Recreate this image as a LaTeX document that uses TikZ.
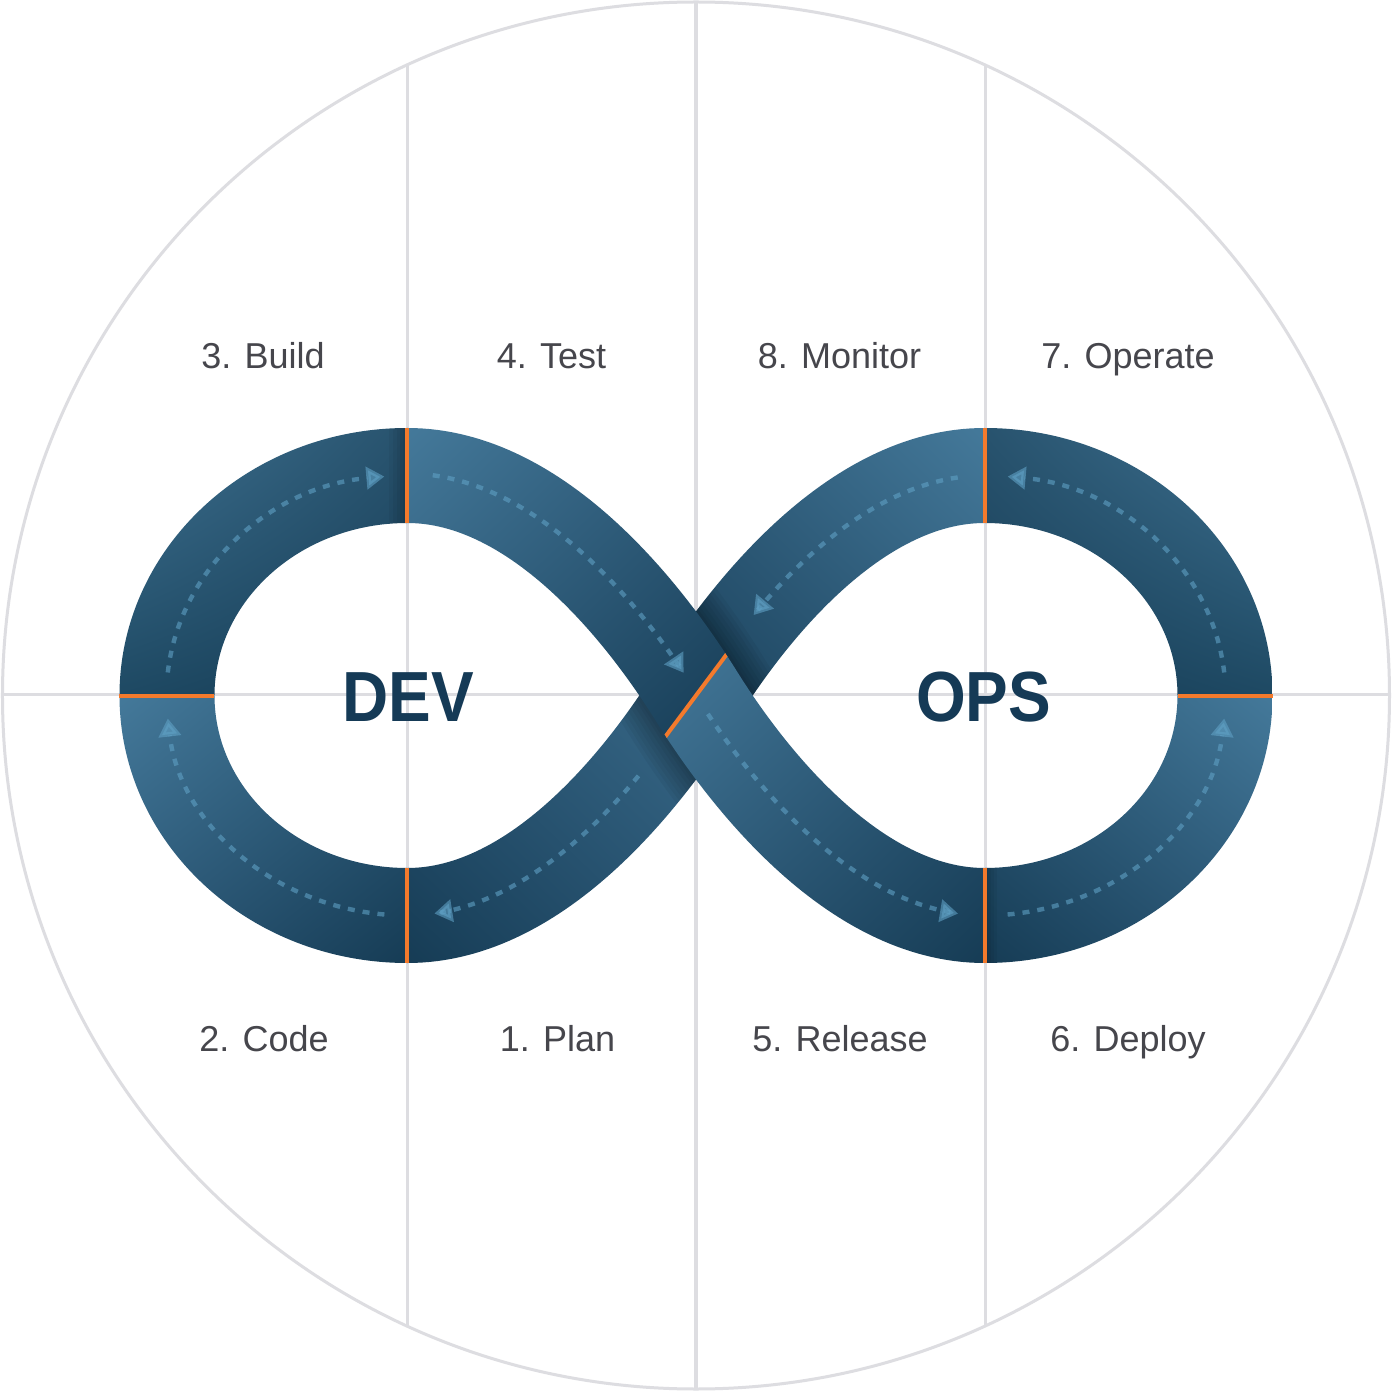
\documentclass[tikz,border=0pt]{standalone}
\usepackage{fontspec}
\setmainfont{Liberation Sans}
\newfontfamily\bigfont{Liberation Sans}[FakeStretch=0.9]
\usetikzlibrary{arrows.meta,shadings}
\definecolor{gridc}{HTML}{DDDDE1}
\definecolor{lblc}{HTML}{46464C}
\definecolor{navy}{HTML}{153A56}
\definecolor{orng}{HTML}{F47A2C}
\definecolor{lt}{HTML}{44799A}
\definecolor{ltb}{HTML}{3F7292}
\definecolor{ltc}{HTML}{3D6F8E}
\definecolor{dk}{HTML}{163C55}
\definecolor{md}{HTML}{2C5876}
\definecolor{mdb}{HTML}{28536E}
\definecolor{mdc}{HTML}{1E4963}
\definecolor{mdd}{HTML}{2D5B79}
\definecolor{mde}{HTML}{2A5675}
\definecolor{dashc}{HTML}{5FA0C4}
\newcommand\bandpath[1]{%
 plot[variable=\x,domain=0:1,samples=60] ({ox(\x,0.475)},{(#1)*oy(\x,0.475)})
 -- plot[variable=\x,domain=0:1,samples=60] ({-ox(1-\x,-0.475)},{-(#1)*oy(1-\x,-0.475)})
 -- plot[variable=\x,domain=0:1,samples=60] ({-ox(\x,0.475)},{-(#1)*oy(\x,0.475)})
 -- plot[variable=\x,domain=0:1,samples=60] ({ox(1-\x,-0.475)},{(#1)*oy(1-\x,-0.475)})
 -- cycle}
\newcommand\buildpath{(-5.765,0) arc[start angle=180,end angle=90,x radius=2.88,y radius=2.675] -- (-2.885,1.725) arc[start angle=90,end angle=180,x radius=1.93,y radius=1.725] -- cycle}
\newcommand\codepath{(-2.885,-2.675) arc[start angle=270,end angle=180,x radius=2.88,y radius=2.675] -- (-4.815,0) arc[start angle=180,end angle=270,x radius=1.93,y radius=1.725] -- cycle}
\newcommand\operatepath{(5.765,0) arc[start angle=0,end angle=90,x radius=2.88,y radius=2.675] -- (2.885,1.725) arc[start angle=90,end angle=0,x radius=1.93,y radius=1.725] -- cycle}
\newcommand\deploypath{(2.885,-2.675) arc[start angle=270,end angle=360,x radius=2.88,y radius=2.675] -- (4.815,0) arc[start angle=0,end angle=-90,x radius=1.93,y radius=1.725] -- cycle}
\tikzset{
 declare function={
  bx(\p)=(1-\p)*(1-\p)*(1-\p)*(-2.885)+3*(1-\p)*(1-\p)*\p*(-1.685)+3*(1-\p)*\p*\p*(-0.636);
  by(\p)=((1-\p)*(1-\p)*(1-\p)+3*(1-\p)*(1-\p)*\p)*2.2+3*(1-\p)*\p*\p*1.018;
  dbx(\p)=3*(1-\p)*(1-\p)*1.2+6*(1-\p)*\p*1.049+3*\p*\p*0.636;
  dby(\p)=-6*(1-\p)*\p*1.182-3*\p*\p*1.018;
  nn(\p)=sqrt(dbx(\p)*dbx(\p)+dby(\p)*dby(\p));
  ox(\p,\w)=bx(\p)-\w*dby(\p)/nn(\p);
  oy(\p,\w)=by(\p)+\w*dbx(\p)/nn(\p);
 },
 gridline/.style={draw=gridc,line width=1.5pt},
 sep/.style={draw=orng,line width=2pt},
 arr/.style={draw=dashc,opacity=0.6,line width=2.2pt,dash pattern=on 3.5pt off 4pt,-{Triangle[length=9pt,width=11pt]}},
 lbl/.style={text=lblc,font=\fontsize{18}{22}\selectfont,anchor=base,inner sep=0pt},
 big/.style={text=navy,font=\bigfont\bfseries\fontsize{35.5}{40}\selectfont,anchor=base,inner sep=0pt},
 shadowline/.style={draw=black,opacity=0.045},
}
\begin{document}
\begin{tikzpicture}[x=50pt,y=50pt]
\useasboundingbox (-6.96,-6.965) rectangle (6.96,6.955);
\fill[white] (-6.96,-6.965) rectangle (6.96,6.955);
% grid
\begin{scope}
\clip (0,0) circle[radius=6.935];
\draw[gridline] (-2.885,-7) -- (-2.885,7);
\draw[gridline] (0,-7) -- (0,7);
\draw[gridline] (2.89,-7) -- (2.89,7);
\draw[gridline] (-7,0.015) -- (7,0.015);
\end{scope}
\draw[gridline] (0,0) circle[radius=6.935];
% loop segments
\shade[upper left=ltb,upper right=mdb,lower left=mdc,lower right=dk] \buildpath;
\shade[upper left=lt,upper right=mdd,lower left=mde,lower right=dk] \codepath;
\shade[upper right=ltb,upper left=mdb,lower right=mdc,lower left=dk] \operatepath;
\shade[upper right=lt,upper left=mdd,lower right=mde,lower left=dk] \deploypath;
% Plan
\begin{scope}
\clip (-2.12,3.392) -- (2.12,-3.392) -- (-7,-3.392) -- (-7,3.392) -- cycle;
\clip \bandpath{-1};
\shade[upper right=ltc,upper left=mde,lower right=mde,lower left=dk] (-2.885,-2.675) rectangle (0.5,0.5);
\end{scope}
% Monitor
\begin{scope}
\clip (-2.12,3.392) -- (2.12,-3.392) -- (7,-3.392) -- (7,3.392) -- cycle;
\clip \bandpath{-1};
\shade[upper right=lt,upper left=md,lower right=md,lower left=dk] (-0.5,-0.5) rectangle (2.885,2.675);
\end{scope}
% shadow of the upper band
\begin{scope}
\clip \bandpath{-1};
\foreach \lw in {30,26,22,18,14,10,6,3}{\draw[shadowline,line width=\lw pt] \bandpath{1};}
\end{scope}
% Test
\begin{scope}
\clip (-2.383,-3.2) -- (2.383,3.2) -- (-7,3.2) -- (-7,-3.2) -- cycle;
\clip \bandpath{1};
\shade[upper left=lt,upper right=md,lower left=md,lower right=dk] (-2.885,-0.45) rectangle (0.45,2.675);
\end{scope}
% Release
\begin{scope}
\clip (-2.383,-3.2) -- (2.383,3.2) -- (7,3.2) -- (7,-3.2) -- cycle;
\clip \bandpath{1};
\shade[upper left=lt,upper right=md,lower left=md,lower right=dk] (-0.45,-2.675) rectangle (2.885,0.45);
\end{scope}
% end shadows
\begin{scope}
\clip \buildpath;
\foreach \s in {0.18,0.14,0.10,0.07,0.04,0.02}{\fill[black,opacity=0.045] (-2.885-\s,1.6) rectangle (-2.885,2.8);}
\end{scope}
\begin{scope}
\clip \deploypath;
\foreach \s in {0.12,0.09,0.06,0.03}{\fill[black,opacity=0.045] (2.885,-2.8) rectangle (2.885+\s,-1.6);}
\end{scope}
% orange separators
\draw[sep] (-2.885,1.725) -- (-2.885,2.675);
\draw[sep] (-2.885,-1.725) -- (-2.885,-2.675);
\draw[sep] (-5.765,0) -- (-4.815,0);
\draw[sep] (2.885,1.725) -- (2.885,2.675);
\draw[sep] (2.885,-1.725) -- (2.885,-2.675);
\draw[sep] (5.765,0) -- (4.815,0);
\begin{scope}
\clip \bandpath{1};
\draw[sep] (-0.4,-0.537) -- (0.4,0.537);
\end{scope}
% dashed arrows
\draw[arr] (-5.282,0.230) arc[start angle=174,end angle=95.5,x radius=2.41,y radius=2.2];
\draw[arr] (-3.116,-2.190) arc[start angle=264.5,end angle=186,x radius=2.41,y radius=2.2];
\draw[arr] (3.116,-2.190) arc[start angle=275.5,end angle=354,x radius=2.41,y radius=2.2];
\draw[arr] (5.282,0.230) arc[start angle=6,end angle=84.5,x radius=2.41,y radius=2.2];
\draw[arr] plot[variable=\x,domain=0.07:0.93,samples=40] ({ox(\x,0.02)},{oy(\x,0.02)});
\draw[arr] plot[variable=\x,domain=0.06:0.926,samples=40] ({-bx(1-\x)},{-by(1-\x)});
\draw[arr] plot[variable=\x,domain=0.26:0.925,samples=40] ({bx(1-\x)},{-by(1-\x)});
\draw[arr] plot[variable=\x,domain=0.075:0.74,samples=40] ({-bx(\x)},{by(\x)});
% labels
\node[lbl] (build) at (-4.33,3.272) {3. Build};
\node[lbl] (test) at (-1.445,3.272) {4. Test};
\node[lbl] (monitor) at (1.435,3.272) {8. Monitor};
\node[lbl] (operate) at (4.32,3.272) {7. Operate};
\node[lbl] (code) at (-4.32,-3.56) {2. Code};
\node[lbl] (plan) at (-1.385,-3.56) {1. Plan};
\node[lbl] (release) at (1.44,-3.56) {5. Release};
\node[lbl] (deploy) at (4.32,-3.56) {6. Deploy};
\node[big] (dev) at (-2.88,-0.262) {DEV};
\node[big] (ops) at (2.875,-0.262) {OPS};
\end{tikzpicture}
\end{document}
